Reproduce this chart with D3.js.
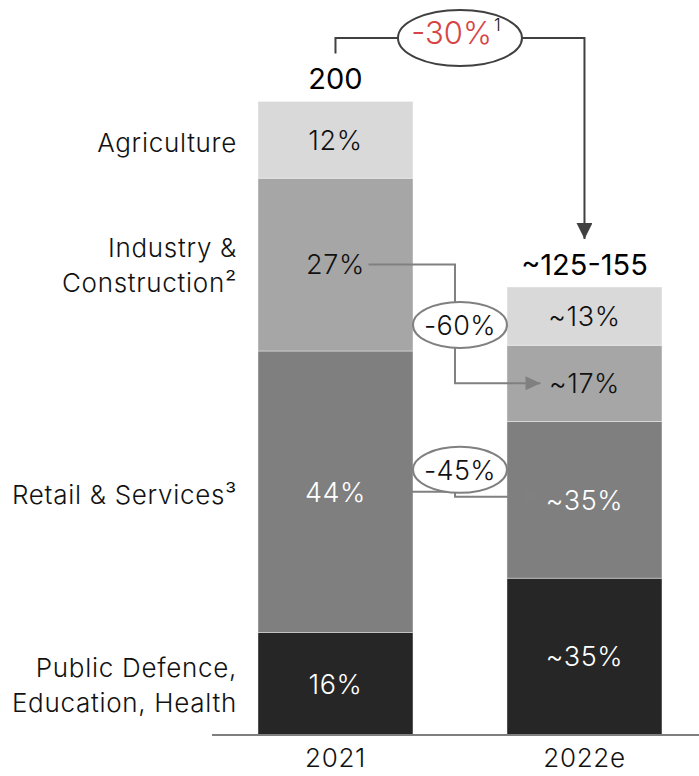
<!DOCTYPE html>
<html><head><meta charset="utf-8">
<script src="https://cdn.jsdelivr.net/npm/d3@7"></script>
<style>body{margin:0;background:#fff}svg{display:block}</style>
</head><body><svg id="chart" width="699" height="776"></svg>
<script>
// Employment by sector, 2021 vs 2022 estimate
const years = ["2021", "2022e"];
const totals = [200, 140];
const totalLabels = ["200", "~125-155"];
const sectors = ["public", "retail", "industry", "agriculture"];
const sectorLabels = [
  ["Public Defence,", "Education, Health"],
  ["Retail & Services³"],
  ["Industry &", "Construction²"],
  ["Agriculture"]
];
const shares2021 = [16, 44, 27, 12];
const shares2022 = [35, 35, 17, 13];
const shareLabels2021 = ["16%", "44%", "27%", "12%"];
const shareLabels2022 = ["~35%", "~35%", "~17%", "~13%"];
const totalChange = "-30%";
const industryChange = "-60%";
const retailChange = "-45%";

const sectorColors = ["#262626", "#7f7f7f", "#a6a6a6", "#d9d9d9"];
const inkColors = ["#ffffff", "#ffffff", "#111111", "#111111"];
const FONT = "Inter, 'Open Sans', sans-serif";

const svg = d3.select("#chart");

const rows = years.map((yr, i) => {
  const shares = i === 0 ? shares2021 : shares2022;
  const row = { year: yr };
  sectors.forEach((s, k) => row[s] = totals[i] * shares[k] / 100);
  return row;
});
const stacked = d3.stack().keys(sectors)(rows);

const x = d3.scaleBand().domain(years).range([212, 699])
  .paddingInner(0.3775).paddingOuter(0.1667).align(0.554);
const y = d3.scaleLinear().domain([0, 200]).range([735, 95]);
const bw = x.bandwidth();
const cx = yr => x(yr) + bw / 2;

// stacked bars
const layer = svg.append("g").selectAll("g").data(stacked).join("g")
  .attr("fill", (d, k) => sectorColors[k]);
layer.selectAll("rect").data(d => d).join("rect")
  .attr("x", d => x(d.data.year))
  .attr("width", bw)
  .attr("y", d => y(d[1]))
  .attr("height", d => y(d[0]) - y(d[1]))
  .attr("stroke", "#ffffff").attr("stroke-opacity", 0.5).attr("stroke-width", 0.8);

// share labels inside segments
stacked.forEach((ser, k) => {
  ser.forEach((d, i) => {
    svg.append("text")
      .attr("x", cx(d.data.year))
      .attr("y", (y(d[0]) + y(d[1])) / 2)
      .attr("dy", "0.36em")
      .attr("text-anchor", "middle")
      .attr("font-family", FONT).attr("font-weight", 300).attr("font-size", 27)
      .attr("letter-spacing", 0.6)
      .attr("fill", inkColors[k])
      .text(i === 0 ? shareLabels2021[k] : shareLabels2022[k]);
  });
});

// sector names on the left
stacked.forEach((ser, k) => {
  const d = ser[0];
  const mid = (y(d[0]) + y(d[1])) / 2;
  const lines = sectorLabels[k];
  const lh = 35;
  const t = svg.append("text")
    .attr("text-anchor", "end")
    .attr("font-family", FONT).attr("font-weight", 300).attr("font-size", 26)
    .attr("letter-spacing", 0.7)
    .attr("fill", "#111111");
  lines.forEach((ln, j) => {
    t.append("tspan")
      .attr("x", 237)
      .attr("y", mid + (j - (lines.length - 1) / 2) * lh + (lines.length === 1 ? 3 : 1))
      .attr("dy", "0.36em")
      .text(ln);
  });
});

// totals above bars
years.forEach((yr, i) => {
  svg.append("text")
    .attr("x", cx(yr))
    .attr("y", y(d3.sum(sectors, s => rows[i][s])) - 12)
    .attr("text-anchor", "middle")
    .attr("font-family", FONT).attr("font-weight", 400).attr("font-size", 29)
    .attr("fill", "#000")
    .text(totalLabels[i]);
});

// baseline axis
const axis = svg.append("g").attr("transform", `translate(0,${y(0)})`)
  .call(d3.axisBottom(x).tickSize(0).tickPadding(14));
axis.select(".domain").remove();
axis.selectAll("text")
  .attr("font-family", FONT).attr("font-weight", 300).attr("font-size", 26)
  .attr("letter-spacing", 0.7)
  .attr("fill", "#111111");
svg.append("line")
  .attr("x1", 212).attr("x2", 699).attr("y1", y(0)).attr("y2", y(0))
  .attr("stroke", "#7f7f7f").attr("stroke-width", 2);

// arrow markers
const defs = svg.append("defs");
function marker(id, color, len, half) {
  defs.append("marker").attr("id", id)
    .attr("markerUnits", "userSpaceOnUse")
    .attr("viewBox", `0 ${-half} ${len} ${half * 2}`)
    .attr("refX", len).attr("refY", 0)
    .attr("markerWidth", len).attr("markerHeight", half * 2)
    .attr("orient", "auto")
    .append("path").attr("d", `M0,${-half}L${len},0L0,${half}Z`).attr("fill", color);
}
marker("arrDark", "#404040", 16, 8);
marker("arrGray", "#808080", 15, 7);

const gapMid = (x(years[0]) + bw + x(years[1])) / 2;
const segMid = (ser, i) => (y(ser[i][0]) + y(ser[i][1])) / 2;

// total change connector
const top0 = y(d3.sum(sectors, s => rows[0][s]));
const top1 = y(d3.sum(sectors, s => rows[1][s]));
const yTop = 38;
svg.append("path")
  .attr("d", d3.line()([[cx(years[0]), top0 - 48], [cx(years[0]), yTop], [gapMid - 62, yTop]]))
  .attr("fill", "none").attr("stroke", "#404040").attr("stroke-width", 2);
svg.append("path")
  .attr("d", d3.line()([[gapMid + 62, yTop], [cx(years[1]), yTop], [cx(years[1]), top1 - 48]]))
  .attr("fill", "none").attr("stroke", "#404040").attr("stroke-width", 2)
  .attr("marker-end", "url(#arrDark)");
svg.append("ellipse")
  .attr("cx", gapMid).attr("cy", yTop).attr("rx", 62).attr("ry", 28)
  .attr("fill", "#fff").attr("stroke", "#404040").attr("stroke-width", 2);
const tTot = svg.append("text")
  .attr("x", gapMid - 4).attr("y", yTop).attr("dy", "0.36em")
  .attr("text-anchor", "middle")
  .attr("font-family", FONT).attr("font-weight", 300);
tTot.append("tspan").attr("font-size", 31).attr("fill", "#d64545").text(totalChange);
tTot.append("tspan").attr("font-size", 17).attr("fill", "#111").attr("dy", "-0.75em").attr("dx", 2).text("1");

// industry change connector
const indStart = segMid(stacked[2], 0);
const indEnd = segMid(stacked[2], 1);
const xStart = cx(years[0]) + 33;
const xTurn = gapMid - 5;
const xTip = cx(years[1]) - 44;
svg.append("path")
  .attr("d", d3.line()([[xStart, indStart], [xTurn, indStart], [xTurn, indEnd], [xTip, indEnd]]))
  .attr("fill", "none").attr("stroke", "#808080").attr("stroke-width", 2)
  .attr("marker-end", "url(#arrGray)");
const indMid = (indStart + indEnd) / 2 + 1;
svg.append("ellipse")
  .attr("cx", gapMid).attr("cy", indMid).attr("rx", 47).attr("ry", 23)
  .attr("fill", "#fff").attr("stroke", "#808080").attr("stroke-width", 2);
svg.append("text")
  .attr("x", gapMid).attr("y", indMid).attr("dy", "0.36em")
  .attr("text-anchor", "middle")
  .attr("font-family", FONT).attr("font-weight", 300).attr("font-size", 27)
  .attr("letter-spacing", 0.4)
  .attr("fill", "#111").text(industryChange);

// retail change connector
const retStart = segMid(stacked[1], 0);
const retEnd = segMid(stacked[1], 1) - 3;
svg.append("path")
  .attr("d", d3.line()([[xStart, retStart], [xTurn, retStart], [xTurn, retEnd], [xTip, retEnd]]))
  .attr("fill", "none").attr("stroke", "#808080").attr("stroke-width", 2)
  .attr("marker-end", "url(#arrGray)");
svg.append("ellipse")
  .attr("cx", gapMid).attr("cy", retStart - 22).attr("rx", 47).attr("ry", 23)
  .attr("fill", "#fff").attr("stroke", "#808080").attr("stroke-width", 2);
svg.append("text")
  .attr("x", gapMid).attr("y", retStart - 22).attr("dy", "0.36em")
  .attr("text-anchor", "middle")
  .attr("font-family", FONT).attr("font-weight", 300).attr("font-size", 27)
  .attr("letter-spacing", 0.4)
  .attr("fill", "#111").text(retailChange);
</script>
</body></html>
